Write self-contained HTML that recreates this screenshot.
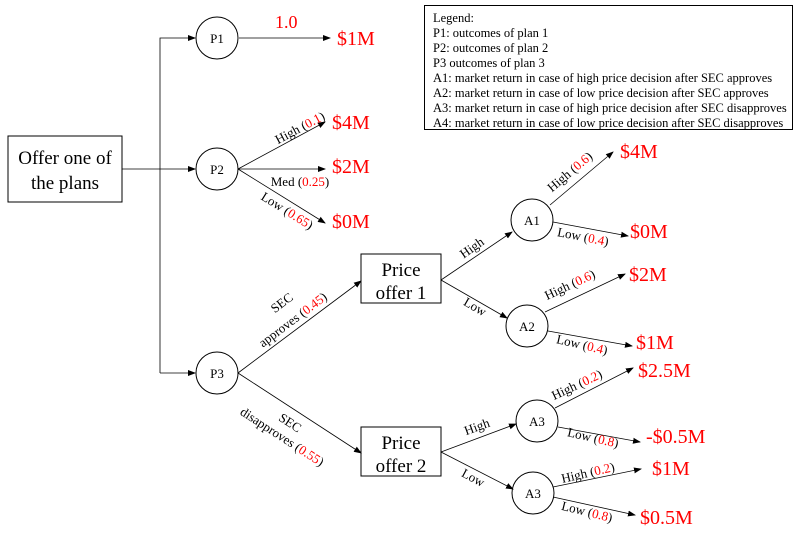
<!DOCTYPE html>
<html><head><meta charset="utf-8"><style>
html,body{margin:0;padding:0;background:#fff;}
svg{display:block;font-family:"Liberation Serif",serif;}
.r{fill:#f00;}
.l{font-size:13px;text-anchor:middle;}
.v{font-size:20px;fill:#f00;}
</style></head><body>
<svg width="798" height="533" viewBox="0 0 798 533" xmlns="http://www.w3.org/2000/svg">
<defs><marker id="a" markerWidth="8" markerHeight="8" refX="7" refY="4" orient="auto" markerUnits="userSpaceOnUse"><path d="M0,1 L8,4 L0,7 z" fill="#000"/></marker></defs>
<g stroke="#000" stroke-width="1" fill="none">
<rect x="8" y="136" width="114" height="66"/>
<rect x="424.5" y="5.5" width="368" height="124"/>
<rect x="361" y="254" width="80" height="49"/>
<rect x="361" y="427" width="80" height="49"/>
<circle cx="217" cy="38" r="21"/><circle cx="217" cy="169" r="21"/><circle cx="217" cy="373" r="21"/>
<circle cx="532" cy="220" r="21"/><circle cx="527" cy="326" r="21"/><circle cx="537" cy="421" r="21"/><circle cx="533" cy="493" r="21"/>
<g stroke-width="0.8" marker-end="url(#a)">
<path d="M160,373 V38 H195"/><path d="M122,169 H195"/><path d="M160,373 H195"/>
<path d="M239,38 H330"/>
<path d="M238,169 L325,122"/><path d="M238,169 H325"/><path d="M238,169 L325,223"/>
<path d="M238,373 L361,281"/><path d="M238,373 L361,453"/>
<path d="M441,280 L512,232"/><path d="M441,280 L507,318"/>
<path d="M550,205 L613,152"/><path d="M553,222 L628,236"/>
<path d="M545,312 L625,274"/><path d="M548,331 L632,346"/>
<path d="M441,452 L516,424"/><path d="M441,452 L513,489"/>
<path d="M555,408 L633,368"/><path d="M558,427 L640,442"/>
<path d="M553,487 L641,469"/><path d="M553,497 L635,515"/>
</g></g>
<g font-size="19" text-anchor="middle"><text x="65" y="164">Offer one of</text><text x="65" y="189">the plans</text>
<text x="401" y="276">Price</text><text x="401" y="299">offer 1</text>
<text x="401" y="449">Price</text><text x="401" y="472">offer 2</text></g>
<g font-size="13" text-anchor="middle">
<text x="217" y="43">P1</text><text x="217" y="174">P2</text><text x="217" y="378">P3</text>
<text x="532" y="225">A1</text><text x="527" y="331">A2</text><text x="537" y="426">A3</text><text x="533" y="498">A3</text></g>
<g font-size="12.5">
<text x="433" y="22">Legend:</text>
<text x="433" y="37">P1: outcomes of plan 1</text>
<text x="433" y="52">P2: outcomes of plan 2</text>
<text x="433" y="67">P3 outcomes of plan 3</text>
<text x="433" y="82">A1: market return in case of high price decision after SEC approves</text>
<text x="433" y="97">A2: market return in case of low price decision after SEC approves</text>
<text x="433" y="112">A3: market return in case of high price decision after SEC disapproves</text>
<text x="433" y="127">A4: market return in case of low price decision after SEC disapproves</text></g>
<text x="275" y="28" font-size="18" class="r">1.0</text>
<text x="337" y="45" class="v">$1M</text>
<text x="332" y="129" class="v">$4M</text>
<text x="332" y="173" class="v">$2M</text>
<text x="332" y="228" class="v">$0M</text>
<text x="620" y="158" class="v">$4M</text>
<text x="630" y="238" class="v">$0M</text>
<text x="629" y="281" class="v">$2M</text>
<text x="636" y="349" class="v">$1M</text>
<text x="638" y="377" class="v">$2.5M</text>
<text x="646" y="443" class="v">-$0.5M</text>
<text x="652" y="475" class="v">$1M</text>
<text x="640" y="524" class="v">$0.5M</text>
<g class="l">
<text transform="translate(300,128) rotate(-28)" y="4">High (<tspan class="r">0.1</tspan>)</text>
<text x="300" y="186">Med (<tspan class="r">0.25</tspan>)</text>
<text transform="translate(287,211) rotate(32)" y="4">Low (<tspan class="r">0.65</tspan>)</text>
<text transform="translate(282,303) rotate(-37)" y="4">SEC</text>
<text transform="translate(293,320) rotate(-37)" y="4">approves (<tspan class="r">0.45</tspan>)</text>
<text transform="translate(290,423) rotate(33)" y="4">SEC</text>
<text transform="translate(282,437) rotate(33)" y="4">disapproves (<tspan class="r">0.55</tspan>)</text>
<text transform="translate(472,248) rotate(-35)" y="4">High</text>
<text transform="translate(475,307) rotate(30)" y="4">Low</text>
<text transform="translate(570,172) rotate(-40)" y="4">High (<tspan class="r">0.6</tspan>)</text>
<text transform="translate(583,237) rotate(11)" y="4">Low (<tspan class="r">0.4</tspan>)</text>
<text transform="translate(570,285) rotate(-25)" y="4">High (<tspan class="r">0.6</tspan>)</text>
<text transform="translate(582,345) rotate(13)" y="4">Low (<tspan class="r">0.4</tspan>)</text>
<text transform="translate(477,427) rotate(-20)" y="4">High</text>
<text transform="translate(473,478) rotate(28)" y="4">Low</text>
<text transform="translate(577,385) rotate(-25)" y="4">High (<tspan class="r">0.2</tspan>)</text>
<text transform="translate(593,438) rotate(13)" y="4">Low (<tspan class="r">0.8</tspan>)</text>
<text transform="translate(588,473) rotate(-13)" y="4">High (<tspan class="r">0.2</tspan>)</text>
<text transform="translate(587,512) rotate(14)" y="4">Low (<tspan class="r">0.8</tspan>)</text>
</g>
</svg>
</body></html>
